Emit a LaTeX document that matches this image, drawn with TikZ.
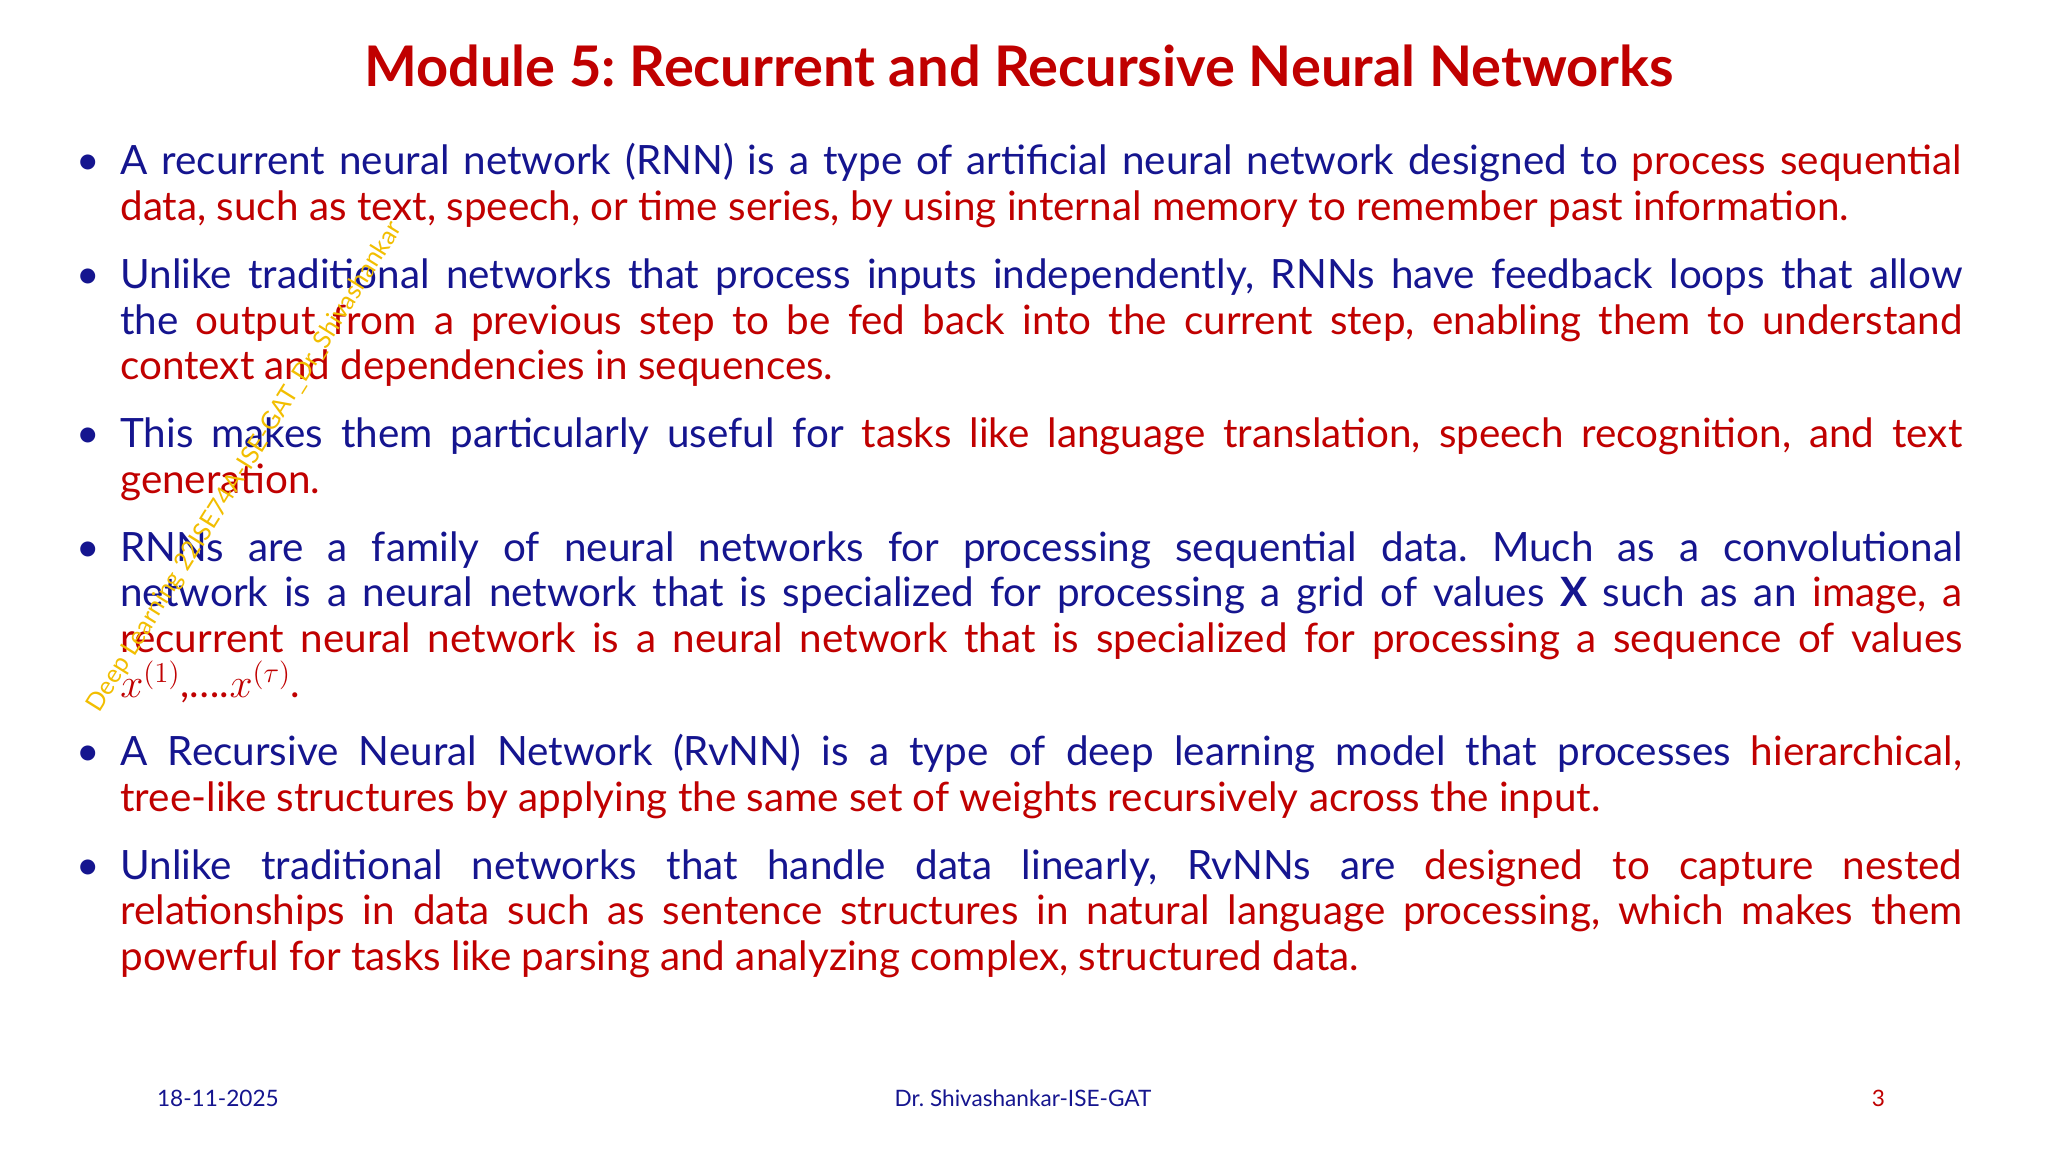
\documentclass[tikz,border=0pt]{standalone}
\usepackage{fontspec}
\setmainfont{Lato}
\usepackage{enumitem}
\definecolor{bl}{HTML}{15158F}
\definecolor{rd}{HTML}{C00000}
\definecolor{wm}{HTML}{F2BE00}
\newcommand{\R}[1]{\textcolor{rd}{#1}}
\frenchspacing
\begin{document}
\begin{tikzpicture}[x=0.5pt,y=-0.5pt]
\useasboundingbox[fill=white] (0,0) rectangle (2048,1152);
\node[font=\fontsize{28}{32}\selectfont\bfseries, text=rd, anchor=base] (title) at (1019,86) {Module 5: Recurrent and Recursive Neural Networks};
\node[anchor=north west, inner sep=0pt, text width=981pt, align=justify, text=bl, font=\fontsize{20.2}{22.75}\selectfont] (body) at (0,129) {%
\begin{itemize}[leftmargin=60pt,labelsep=10pt,label=\textbullet,itemsep=11.3pt,parsep=0pt,topsep=0pt,partopsep=0pt]
\item A recurrent neural network (RNN) is a type of artificial neural network designed to \R{process sequential\linebreak data, such as text, speech, or time series, by using internal memory to remember past information.}
\item Unlike traditional networks that process inputs independently, RNNs have feedback loops that allow\linebreak the \R{output from a previous step to be fed back into the current step, enabling them to understand\linebreak context and dependencies in sequences.}
\item This makes them particularly useful for \R{tasks like language translation, speech recognition, and text\linebreak generation.}
\item RNNs are a family of neural networks for processing sequential data. Much as a convolutional\linebreak network is a neural network that is specialized for processing a grid of values \textbf{X} such as an \R{image, a\linebreak recurrent neural network is a neural network that is specialized for processing a sequence of values\linebreak $x^{(1)}$,\dots.$x^{(\tau)}$.}
\item A Recursive Neural Network (RvNN) is a type of deep learning model that processes \R{hierarchical,\linebreak tree-like structures by applying the same set of weights recursively across the input.}
\item Unlike traditional networks that handle data linearly, RvNNs are \R{designed to capture nested\linebreak relationships in data such as sentence structures in natural language processing, which makes them\linebreak powerful for tasks like parsing and analyzing complex, structured data.}
\end{itemize}};
\node[rotate=58, text=wm, font=\fontsize{12.5}{14}\selectfont] (wmark) at (245,467) {Deep Learning 22ISE74A-ISE-GAT\_Dr\_Shivashankar};
\node[anchor=base west, font=\fontsize{11.3}{13}\selectfont, text=bl] (date) at (150,1106) {18-11-2025};
\node[anchor=base, font=\fontsize{11.3}{13}\selectfont, text=bl] (auth) at (1023,1106) {Dr. Shivashankar-ISE-GAT};
\node[anchor=base east, font=\fontsize{11.3}{13}\selectfont, text=rd] (pg) at (1892,1106) {3};
\end{tikzpicture}
\end{document}
